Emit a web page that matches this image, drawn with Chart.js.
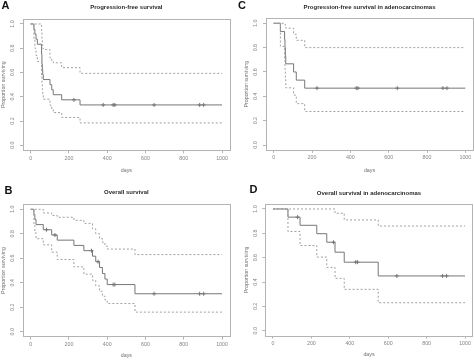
<!DOCTYPE html>
<html>
<head>
<meta charset="utf-8">
<script src="https://cdn.jsdelivr.net/npm/chart.js@4.4.1/dist/chart.umd.min.js"></script>
<style>
  html, body { margin: 0; padding: 0; background: #fff; }
  #wrap { position: relative; width: 474px; height: 360px; overflow: hidden; }
  #wrap canvas { position: absolute; }
</style>
</head>
<body>
<div id="wrap">
  <canvas id="pA" width="237" height="180" style="left:0;top:0"></canvas>
  <canvas id="pC" width="237" height="180" style="left:237px;top:0"></canvas>
  <canvas id="pB" width="237" height="180" style="left:0;top:180px"></canvas>
  <canvas id="pD" width="237" height="180" style="left:237px;top:180px"></canvas>
</div>
<script>
// axis ticks
const xTicks = [0, 200, 400, 600, 800, 1000];
const yTicks = [0, 0.2, 0.4, 0.6, 0.8, 1.0];

// A - progression-free survival (step times in days)
const timesA = [0, 17, 22, 28, 35, 57, 59, 61, 63, 66, 101, 110, 118, 162, 258, 1000];
const survA  = [1, 0.958, 0.917, 0.875, 0.833, 0.75, 0.667, 0.625, 0.583, 0.542, 0.5, 0.458, 0.417, 0.375, 0.333, 0.333];
const upperA = [1, 1, 1, 1, 1, 0.93, 0.87, 0.83, 0.80, 0.79, 0.72, 0.70, 0.68, 0.64, 0.593, 0.593];
const lowerA = [1, 0.88, 0.80, 0.74, 0.69, 0.58, 0.50, 0.46, 0.42, 0.38, 0.33, 0.30, 0.27, 0.23, 0.185, 0.185];
const censorA = [226, 379, 431, 440, 645, 883, 904];

// C - progression-free survival in adenocarcinomas
const timesC = [0, 35, 57, 59, 61, 63, 104, 118, 162, 1000];
const survC  = [1, 0.933, 0.867, 0.8, 0.733, 0.667, 0.6, 0.533, 0.467, 0.467];
const upperC = [1, 1, 1, 0.99, 0.98, 0.96, 0.91, 0.86, 0.80, 0.80];
const lowerC = [1, 0.81, 0.70, 0.62, 0.55, 0.47, 0.41, 0.34, 0.275, 0.275];
const censorC = [226, 431, 440, 645, 883, 904];

// B - overall survival
const timesB = [0, 17, 22, 28, 66, 110, 139, 226, 278, 323, 340, 360, 375, 388, 400, 545, 1000];
const survB  = [1, 0.958, 0.917, 0.875, 0.833, 0.79, 0.748, 0.705, 0.662, 0.617, 0.572, 0.525, 0.475, 0.43, 0.385, 0.31, 0.31];
const upperB = [1, 1, 1, 1, 0.97, 0.95, 0.935, 0.91, 0.885, 0.84, 0.80, 0.76, 0.73, 0.70, 0.675, 0.63, 0.63];
const lowerB = [1, 0.88, 0.81, 0.76, 0.71, 0.65, 0.59, 0.53, 0.47, 0.42, 0.375, 0.33, 0.29, 0.26, 0.23, 0.16, 0.16];
const censorB = [83, 127, 318, 352, 431, 440, 645, 883, 904];

// D - overall survival in adenocarcinomas
const timesD = [0, 78, 141, 228, 280, 323, 371, 548, 1000];
const survD  = [1, 0.933, 0.866, 0.797, 0.727, 0.645, 0.563, 0.45, 0.45];
const upperD = [1, 1, 1, 1, 1, 0.965, 0.91, 0.86, 0.86];
const lowerD = [1, 0.815, 0.70, 0.605, 0.52, 0.43, 0.34, 0.23, 0.23];
const censorD = [128, 315, 431, 440, 645, 883, 904];

const FONT = "'Liberation Sans', Arial, Helvetica, sans-serif";
const solidCol = "#777777";
const dashCol = "#a0a0a0";
const boxCol = "#b4b4b4";
const tickCol = "#858585";

// value of the step curve at day t
function stepAt(times, vals, t) {
    let v = vals[0];
    for (let i = 0; i < times.length; i++) {
        if (times[i] <= t) v = vals[i];
    }
    return v;
}

// R style plot box + panel letter
const boxPlugin = {
    id: "kmBox",
    afterDraw(chart, args, opts) {
        const { ctx, chartArea: a } = chart;
        ctx.save();
        ctx.strokeStyle = boxCol;
        ctx.lineWidth = 1;
        ctx.strokeRect(Math.round(a.left) + 0.5, Math.round(a.top) + 0.5,
            Math.round(a.right - a.left), Math.round(a.bottom - a.top));
        ctx.fillStyle = "#111";
        ctx.font = "bold 11px " + FONT;
        ctx.textAlign = "center";
        ctx.textBaseline = "middle";
        ctx.fillText(opts.letter, opts.lx, opts.ly);
        ctx.restore();
    }
};

function makePanel(id, p) {
    const pts = ys => p.times.map((t, i) => ({ x: t, y: ys[i] }));
    const dashed = ys => ({
        data: pts(ys), borderColor: dashCol, borderWidth: 1, borderDash: [2, 2],
        stepped: true, pointRadius: 0, fill: false
    });
    new Chart(document.getElementById(id), {
        type: "line",
        data: {
            datasets: [
                dashed(p.upper),
                dashed(p.lower),
                { data: pts(p.surv), borderColor: solidCol, borderWidth: 1, stepped: true, pointRadius: 0, fill: false },
                {
                    data: p.censor.map(t => ({ x: t, y: stepAt(p.times, p.surv, t) })),
                    showLine: false, pointStyle: "cross", pointRadius: 2, borderColor: solidCol, borderWidth: 1
                }
            ]
        },
        options: {
            responsive: false,
            animation: false,
            devicePixelRatio: 1,
            layout: { autoPadding: false, padding: { left: 0, top: 0, bottom: 0, right: 237 - p.right } },
            plugins: {
                legend: { display: false },
                tooltip: { enabled: false },
                title: {
                    display: true, text: p.title, fullSize: false, color: "#2a2a2a",
                    font: { family: FONT, size: 6, weight: "bold", lineHeight: 1 },
                    padding: { top: p.tTop, bottom: p.top - 6 - p.tTop }
                },
                kmBox: { letter: p.letter, lx: p.lx, ly: p.ly }
            },
            scales: {
                x: {
                    type: "linear", min: -40, max: 1040,
                    afterBuildTicks: s => { s.ticks = xTicks.map(v => ({ value: v })); },
                    afterFit: s => { s.height = 180 - p.bottom; },
                    grid: { drawOnChartArea: false, drawTicks: true, tickLength: 3, color: boxCol },
                    border: { display: false },
                    ticks: {
                        padding: 1.7, color: tickCol, font: { family: FONT, size: 5.3 }, maxRotation: 0,
                        callback: v => String(v)
                    },
                    title: { display: true, text: "days", color: "#707070", font: { family: FONT, size: 5.3 }, padding: { top: 0, bottom: p.xtPad } }
                },
                y: {
                    min: -0.04, max: 1.04,
                    afterBuildTicks: s => { s.ticks = yTicks.map(v => ({ value: v })); },
                    afterFit: s => { s.width = p.left; },
                    grid: { drawOnChartArea: false, drawTicks: true, tickLength: 3, color: boxCol },
                    border: { display: false },
                    ticks: {
                        minRotation: 90, maxRotation: 90, crossAlign: "center", padding: 3.3,
                        color: tickCol, font: { family: FONT, size: 5.3 },
                        callback: v => v.toFixed(1)
                    },
                    title: { display: true, text: "Proportion surviving", color: "#707070", font: { family: FONT, size: 5.3 }, padding: { top: p.ytPad, bottom: 0 } }
                }
            }
        },
        plugins: [boxPlugin]
    });
}

makePanel("pA", {
    title: "Progression-free survival", letter: "A", lx: 5.5, ly: 6,
    times: timesA, surv: survA, upper: upperA, lower: lowerA, censor: censorA,
    left: 23, right: 229.7, top: 19.1, bottom: 150.2, tTop: 4, xtPad: 5.8, ytPad: 0
});
makePanel("pC", {
    title: "Progression-free survival in adenocarcinomas", letter: "C", lx: 5, ly: 6,
    times: timesC, surv: survC, upper: upperC, lower: lowerC, censor: censorC,
    left: 29, right: 236, top: 18.4, bottom: 149.9, tTop: 4, xtPad: 5.8, ytPad: 6.1
});
makePanel("pB", {
    title: "Overall survival", letter: "B", lx: 8.5, ly: 11,
    times: timesB, surv: survB, upper: upperB, lower: lowerB, censor: censorB,
    left: 23, right: 229.7, top: 24.4, bottom: 156.6, tTop: 9, xtPad: 0.8, ytPad: 0
});
makePanel("pD", {
    title: "Overall survival in adenocarcinomas", letter: "D", lx: 16.5, ly: 10,
    times: timesD, surv: survD, upper: upperD, lower: lowerD, censor: censorD,
    left: 28.3, right: 235.7, top: 24.1, bottom: 155.6, tTop: 10, xtPad: 1.8, ytPad: 6.1
});
</script>
</body>
</html>
